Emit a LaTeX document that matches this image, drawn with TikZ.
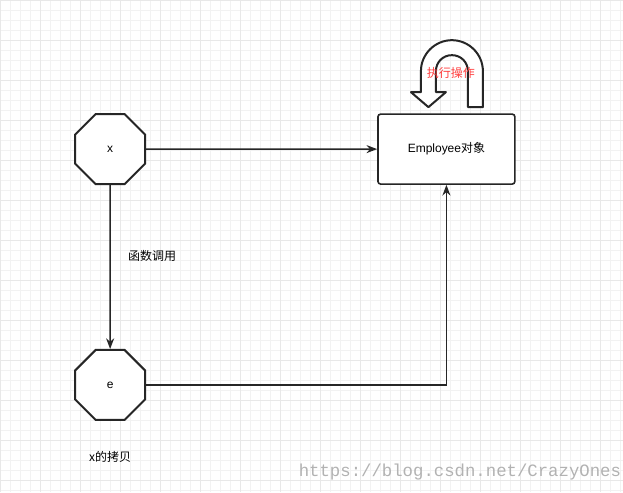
\documentclass[tikz,border=0pt]{standalone}
\usepackage{fontspec}
\setmainfont{Liberation Sans}
\newfontfamily\cjk{Noto Sans CJK SC}
\newfontfamily\monofont{Liberation Mono}
\usetikzlibrary{shapes.geometric}
\usetikzlibrary{arrows.meta}
\tikzset{
  octa/.style={draw=black!85, line width=1.5pt, regular polygon, regular polygon sides=8,
    minimum size=56.8pt, inner sep=0pt, font=\small},
  objbox/.style={draw=black!85, line width=1.2pt, rounded corners=2pt, minimum width=102.75pt,
    minimum height=52.5pt, font=\small},
  conn/.style={draw=black!85, line width=1.2pt, -{Stealth[length=8pt,width=6pt]}},
}
\begin{document}
\begin{tikzpicture}[x=0.75pt,y=-0.75pt]
            % Grid
            \fill[white] (0,0) rectangle (623,492);
            \draw[black!5, line width=0.3pt, step=7.5pt] (0,0) grid (623,492);
            \draw[black!9, line width=0.3pt, step=30pt] (0,0) grid (623,492);
            \useasboundingbox (0,0) rectangle (623,492);

            % Nodes
            \node[octa, fill=white] (x) at (110,149) {x};
            \node[octa, fill=white] (e) at (110,385) {e};
            \node[objbox, fill=white] (emp) at (446.5,149) {Employee{\cjk 对象}};

            % Connectors
            \draw[conn] (x.east) -- (emp.west);
            \draw[conn] (x) -- (e);
            \draw[conn] (e.east) -| (emp.south);
            \node[font=\small\cjk] (call) at (152,256) {函数调用};
            \node[font=\small\cjk] (copy) at (110,457) {x的拷贝};

            % U-turn arrow
            \draw[black!85, line width=1.5pt, fill=white, line join=round]
              (468,107) -- (468,71) .. controls (468,62) and (461,55) .. (452,55)
              .. controls (443,55) and (436,62) .. (436,71) -- (436,92) -- (446,92)
              -- (428.5,107) -- (411,92) -- (421,92) -- (421,71)
              .. controls (421,54) and (435,40) .. (452,40)
              .. controls (469,40) and (483,54) .. (483,71) -- (483,107) -- cycle;
            \node[font=\small\cjk, text=red!75] (op) at (451,73) {执行操作};

            % Watermark
            \node[font=\monofont\fontsize{13}{13}\selectfont, text=black!30] (wm) at (460,472)
              {https://blog.csdn.net/CrazyOnes};
        \end{tikzpicture}
\end{document}
